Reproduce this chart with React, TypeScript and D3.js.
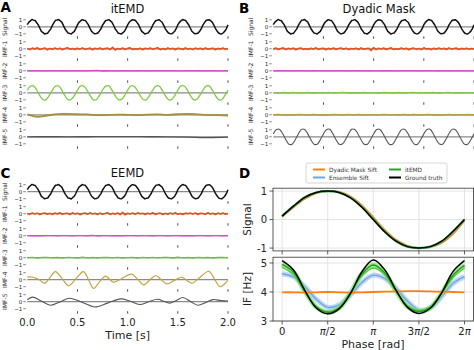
import React from "react";
import * as d3 from "d3";

// ---------------- data: time-series panels (A, B, C) ----------------
const TIME_TICKS = [0.5, 1.0, 1.5, 2.0];
const TIME_TICK_LABELS = ["0.0", "0.5", "1.0", "1.5", "2.0"];
const TIME_LABEL_VALUES = [0, 0.5, 1.0, 1.5, 2.0];
const ROW_LABELS = ["Signal", "IMF-1", "IMF-2", "IMF-3", "IMF-4", "IMF-5"];
const ROW_TICKS = [1, 0, -1];

const SIGNAL = [
  0.30, 0.66, 0.85, 1.04, 0.95, 0.90, 0.58, 0.28, -0.20, -0.66, -0.83, -1.02, -0.95, -0.91, -0.58, -0.30,
  0.22, 0.60, 0.92, 0.96, 1.03, 0.84, 0.66, 0.20, -0.28, -0.60, -0.90, -0.94, -1.04, -0.82, -0.65, -0.22,
  0.27, 0.65, 0.84, 1.02, 0.94, 0.91, 0.60, 0.27, -0.22, -0.65, -0.85, -1.01, -0.96, -0.88, -0.59, -0.28,
  0.24, 0.58, 0.90, 0.95, 1.03, 0.85, 0.64, 0.22, -0.27, -0.58, -0.91, -0.97, -1.02, -0.84, -0.63, -0.23,
  0.28, 0.64, 0.86, 1.01, 0.97, 0.89, 0.59, 0.29, -0.23, -0.66, -0.84, -1.03, -0.94, -0.90, -0.61, -0.26,
  0.23, 0.61, 0.91, 0.94, 1.02, 0.83, 0.65, 0.21, -0.26, -0.61, -0.89, -0.98, -1.01, -0.86, -0.64, -0.24,
  0.29, 0.63, 0.85, 1.03, 0.96, 0.90, 0.57, 0.26, -0.21, -0.64, -0.86, -1.00, -0.97, -0.89, -0.60, -0.27,
  0.25, 0.59, 0.89, 0.97, 1.01, 0.86, 0.63, 0.23, -0.25, -0.59, -0.88, -0.99, -1.02, -0.85, -0.62, -0.25,
  0.27,
];

const A_IMF1 = [0.05, -0.12, 0.10, -0.04, 0.14, -0.10, 0.02, 0.12, -0.15, 0.06, -0.08, 0.11, -0.02, 0.09, -0.13, 0.04, 0.16, -0.07, 0.03, -0.11, 0.08, -0.05, 0.13, -0.09, 0.01, 0.10, -0.14, 0.07, -0.03, 0.12, -0.10, 0.05, 0.09, -0.12, 0.22, -0.18, 0.04, -0.06, 0.11, -0.09, 0.06, 0.13, -0.11, 0.02, -0.07, 0.10, -0.13, 0.08, -0.02, 0.12, -0.08, 0.04, 0.15, -0.12, 0.03, -0.09, 0.11, -0.04, 0.07, -0.14, 0.09, 0.02, -0.10, 0.13, -0.06, 0.05, -0.12, 0.10, -0.03, 0.08, -0.11, 0.14, -0.07, 0.02, 0.09, -0.13, 0.06, -0.04, 0.11, -0.08, 0.03];
const A_IMF2 = [0.01, -0.02, 0.02, 0.0, -0.01, 0.03, -0.02, 0.01, 0.0, 0.02, -0.01, 0.01, -0.02, 0.02, 0.07, -0.03, 0.01, 0.0, -0.02, 0.02, 0.01, -0.01, 0.02, -0.02, 0.0, 0.01, -0.01, 0.03, -0.02, 0.01, 0.0, -0.01, 0.02, -0.01, 0.01, 0.0, -0.02, 0.02, 0.0, -0.01, 0.01];
const A_IMF3 = [
  0.36, 0.97, 0.98, 0.40, -0.40, -0.99, -0.97, -0.37,
  0.39, 0.95, 0.97, 0.38, -0.41, -0.98, -0.96, -0.39,
  0.37, 0.98, 0.96, 0.41, -0.38, -0.97, -0.99, -0.38,
  0.40, 0.96, 0.99, 0.39, -0.40, -0.98, -0.95, -0.40,
  0.38, 0.97, 0.95, 0.40, -0.39, -0.99, -0.97, -0.36,
  0.37, 0.95, 0.98, 0.38, -0.41, -0.96, -0.98, -0.39,
  0.39, 0.98, 0.97, 0.41, -0.38, -0.98, -0.96, -0.38,
  0.36, 0.96, 0.98, 0.39, -0.40, -0.97, -0.99, -0.37,
  0.38,
];
const A_IMF4 = [0.05, -0.3, -0.1, 0.1, 0.12, 0.08, 0.05, -0.05, -0.02, 0.03, 0.0, -0.05, 0.02, 0.05, 0.0, 0.08, 0.12, 0.05, -0.02, -0.05, -0.1];
const A_IMF5 = [0, 0.01, 0, 0.01, 0.02, 0.02, 0.01, 0, -0.04, -0.12, -0.06];

const B_IMF1 = [-0.06, 0.11, -0.09, 0.04, 0.13, -0.12, 0.07, -0.03, 0.10, -0.14, 0.05, 0.12, -0.08, 0.02, -0.11, 0.09, -0.05, 0.14, -0.10, 0.03, 0.08, -0.13, 0.06, -0.02, 0.11, -0.09, 0.04, 0.12, -0.07, 0.10, -0.12, 0.05, -0.04, 0.09, -0.11, 0.13, -0.06, 0.02, 0.08, -0.25, 0.18, -0.12, 0.07, -0.03, 0.11, -0.09, 0.05, 0.13, -0.10, 0.02, -0.07, 0.12, -0.05, 0.09, -0.13, 0.04, 0.10, -0.08, 0.06, -0.11, 0.14, -0.04, 0.03, -0.12, 0.09, -0.06, 0.11, -0.02, 0.07, -0.10, 0.13, -0.05, 0.04, 0.10, -0.12, 0.06, -0.03, 0.09, -0.08, 0.05, -0.02];
const B_IMF2 = [0.0, 0.02, -0.01, 0.01, -0.02, 0.02, 0.0, -0.01, 0.02, -0.02, 0.01, 0.0, 0.02, -0.01, 0.01, -0.02, 0.0, 0.02, -0.01, 0.01, 0.0, -0.02, 0.01, 0.02, -0.01, 0.0, 0.01, -0.02, 0.02, 0.0, -0.01, 0.01, 0.0, 0.02, -0.02, 0.01, -0.01, 0.02, 0.0, -0.01, 0.0];
const B_IMF3 = [0.02, -0.05, 0.04, -0.02, 0.06, -0.04, 0.01, 0.05, -0.06, 0.03, -0.02, 0.04, -0.05, 0.02, 0.06, -0.03, 0.01, -0.04, 0.05, -0.02, 0.03, -0.06, 0.04, 0.01, -0.03, 0.05, -0.04, 0.02, 0.06, -0.05, 0.03, -0.01, 0.04, -0.06, 0.02, 0.05, -0.03, 0.01, -0.04, 0.03, -0.02];
const B_IMF4 = [-0.02, 0.04, -0.03, 0.02, -0.04, 0.03, 0.01, -0.03, 0.04, -0.02, 0.02, -0.04, 0.03, 0.0, -0.03, 0.04, -0.02, 0.03, -0.04, 0.02, 0.01, -0.03, 0.04, -0.01, 0.02, -0.04, 0.03, -0.02, 0.04, -0.03, 0.01, 0.03, -0.04, 0.02, -0.02, 0.04, -0.03, 0.02, -0.01, 0.03, -0.02];
const B_IMF5 = [
  0.40, 1.04, 1.06, 0.44, -0.42, -1.07, -1.05, -0.41,
  0.43, 1.06, 1.05, 0.42, -0.44, -1.05, -1.06, -0.43,
  0.41, 1.05, 1.07, 0.43, -0.42, -1.06, -1.04, -0.42,
  0.42, 1.07, 1.05, 0.41, -0.43, -1.07, -1.06, -0.41,
  0.43, 1.04, 1.06, 0.44, -0.41, -1.05, -1.07, -0.43,
  0.41, 1.06, 1.04, 0.42, -0.44, -1.06, -1.05, -0.42,
  0.42, 1.05, 1.07, 0.43, -0.42, -1.04, -1.06, -0.41,
  0.43, 1.06, 1.05, 0.41, -0.43, -1.07, -1.05, -0.42,
  0.42,
];

const C_IMF1 = [0.04, -0.10, 0.12, -0.06, 0.09, -0.13, 0.03, 0.11, -0.08, 0.05, -0.12, 0.10, -0.04, 0.14, -0.09, 0.02, 0.07, -0.11, 0.13, -0.05, 0.08, -0.14, 0.04, 0.10, -0.07, 0.12, -0.03, 0.06, -0.12, 0.09, -0.08, 0.03, 0.13, -0.10, 0.05, -0.06, 0.11, -0.13, 0.20, -0.16, 0.07, -0.04, 0.10, -0.09, 0.12, -0.02, 0.06, -0.11, 0.08, -0.05, 0.13, -0.10, 0.03, 0.09, -0.12, 0.05, -0.07, 0.11, -0.03, 0.14, -0.09, 0.04, -0.12, 0.08, -0.02, 0.10, -0.06, 0.12, -0.11, 0.05, 0.03, -0.09, 0.13, -0.04, 0.07, -0.12, 0.09, -0.05, 0.11, -0.07, 0.04];
const C_IMF2 = [0.01, -0.01, 0.02, -0.02, 0.0, 0.01, -0.01, 0.02, 0.0, -0.02, 0.01, 0.02, -0.01, 0.06, -0.04, 0.01, 0.0, -0.01, 0.02, -0.01, 0.0, 0.02, -0.02, 0.01, 0.0, -0.01, 0.02, 0.0, -0.02, 0.01, 0.01, -0.01, 0.02, -0.02, 0.0, 0.01, -0.01, 0.02, 0.0, -0.01, 0.0];
const C_IMF3 = [-0.02, 0.04, -0.05, 0.03, 0.05, -0.03, 0.02, -0.06, 0.04, 0.01, -0.04, 0.06, -0.02, 0.03, -0.05, 0.04, 0.02, -0.03, 0.05, -0.04, 0.01, 0.03, -0.06, 0.05, -0.02, 0.04, -0.03, 0.02, 0.05, -0.04, 0.06, -0.02, 0.03, -0.05, 0.04, -0.01, 0.03, -0.04, 0.02, 0.04, -0.02];
const C_IMF4_T = [0.0, 0.06, 0.12, 0.17, 0.225, 0.28, 0.345, 0.41, 0.485, 0.56, 0.61, 0.66, 0.72, 0.78, 0.86, 0.95, 1.04, 1.10, 1.16, 1.22, 1.28, 1.335, 1.39, 1.465, 1.54, 1.59, 1.64, 1.725, 1.81, 1.865, 1.92, 2.0];
const C_IMF4_V = [0.40, 0.35, 0.0, -0.5, 0.3, 1.15, 0.2, -0.85, 0.15, 1.15, 0.0, -1.25, -0.3, 0.5, -0.35, 0.25, 0.8, 0.05, -0.75, -0.05, 0.6, 0.0, -0.6, -0.1, 0.35, -0.1, -0.5, 0.4, 1.2, 0.1, -1.0, -0.1];
const C_IMF5_T = [0.0, 0.05, 0.14, 0.23, 0.33, 0.42, 0.55, 0.67, 0.8, 0.93, 1.02, 1.12, 1.21, 1.3, 1.36, 1.42, 1.49, 1.55, 1.63, 1.7, 1.78, 1.85, 1.93, 2.0];
const C_IMF5_V = [0.25, 0.65, 0.1, -0.5, 0.0, 0.5, -0.1, -0.75, -0.2, 0.4, 0.1, -0.4, 0.0, 0.35, 0.05, -0.2, 0.2, 0.6, 0.0, -0.5, -0.1, 0.3, 0.15, 0.1];

// ---------------- data: panel D ----------------
const PHASE_TICK_LABELS = ["0", "π/2", "π", "3π/2", "2π"];
const SIG_TICKS = [1, 0, -1];
const SIG_TICK_LABELS = ["1", "0", "-1"];
const IF_TICKS = [5, 4, 3];
const SIG_TRUTH = [0.12, 0.47, 0.78, 0.95, 1.0, 0.95, 0.76, 0.43, 0.0, -0.43, -0.76, -0.95, -1.0, -0.95, -0.76, -0.41, 0.0];
const SIG_DYADIC = [0.10, 0.43, 0.73, 0.93, 1.0, 0.97, 0.81, 0.5, 0.08, -0.36, -0.71, -0.92, -1.0, -0.97, -0.82, -0.5, -0.04];
const SIG_ENSEMBLE = [0.12, 0.46, 0.77, 0.95, 1.0, 0.96, 0.77, 0.45, 0.02, -0.41, -0.75, -0.95, -1.0, -0.96, -0.78, -0.44, -0.01];
const SIG_ITEMD = [0.12, 0.47, 0.78, 0.95, 1.0, 0.95, 0.77, 0.44, 0.01, -0.42, -0.76, -0.95, -1.0, -0.95, -0.77, -0.42, 0.0];
const IF_TRUTH = [5.08, 4.76, 4.05, 3.45, 3.25, 3.42, 3.95, 4.7, 5.1, 4.77, 4.06, 3.47, 3.26, 3.44, 3.97, 4.71, 5.08];
const IF_ITEMD = [4.95, 4.68, 4.02, 3.48, 3.3, 3.45, 3.97, 4.62, 4.93, 4.66, 4.03, 3.5, 3.33, 3.46, 3.96, 4.58, 4.92];
const IF_ITEMD_2 = [4.85, 4.6, 4.0, 3.5, 3.33, 3.47, 3.98, 4.55, 4.83, 4.6, 4.02, 3.52, 3.36, 3.48, 3.97, 4.5, 4.82];
const IF_ENSEMBLE = [4.63, 4.52, 4.18, 3.75, 3.47, 3.56, 3.9, 4.33, 4.58, 4.47, 4.12, 3.68, 3.38, 3.45, 3.84, 4.3, 4.53];
const IF_DYADIC = [3.99, 3.99, 3.98, 3.99, 4.0, 3.99, 3.98, 3.99, 4.0, 4.01, 4.02, 4.03, 4.03, 4.02, 4.01, 4.0, 3.99];

const LEGEND = [
  { label: "Dyadic Mask Sift", color: "#ff7f0e" },
  { label: "itEMD", color: "#2ca02c" },
  { label: "Ensemble Sift", color: "#6fa3ec" },
  { label: "Ground truth", color: "#000000" },
];

// ---------------- styles ----------------
const FONT = "DejaVu Sans, Verdana, sans-serif";
const COL_SIG = "#111111";
const COL_IMF1 = "#e4501e";
const COL_IMF2 = "#dd44dd";
const COL_IMF3 = "#7fcc3f";
const COL_IMF4 = "#b89c3c";
const COL_IMF5 = "#555555";
const ZERO_C = "#8a8a8a";

type RowDef = { v: number[]; t?: number[]; color: string; sw: number; smooth?: boolean };

function uniformTimes(n: number) {
  return d3.range(n).map((i) => (i * 2) / (n - 1));
}

type PanelCfg = {
  x0: number; x1: number; zero0: number; labelX: number;
  title: string; titleX: number; titleY: number;
  letter: string; letterX: number; letterY: number;
  rows: RowDef[]; bottom: boolean;
};

const PANELS: PanelCfg[] = [
  {
    x0: 27.3, x1: 228, zero0: 26.8, labelX: 7, title: "itEMD", titleX: 127.5, titleY: 12.5,
    letter: "A", letterX: 0.5, letterY: 12, bottom: false,
    rows: [
      { v: SIGNAL, color: COL_SIG, sw: 1.5 },
      { v: A_IMF1, color: COL_IMF1, sw: 1.6 },
      { v: A_IMF2, color: COL_IMF2, sw: 1.3 },
      { v: A_IMF3, color: COL_IMF3, sw: 1.3, smooth: true },
      { v: A_IMF4, color: "#a88f3c", sw: 1.8, smooth: true },
      { v: A_IMF5, color: COL_IMF5, sw: 1.3, smooth: true },
    ],
  },
  {
    x0: 273.3, x1: 474, zero0: 26.8, labelX: 253, title: "Dyadic Mask", titleX: 379, titleY: 12.5,
    letter: "B", letterX: 239, letterY: 12.5, bottom: false,
    rows: [
      { v: SIGNAL, color: COL_SIG, sw: 1.5 },
      { v: B_IMF1, color: COL_IMF1, sw: 1.6 },
      { v: B_IMF2, color: COL_IMF2, sw: 1.3 },
      { v: B_IMF3, color: COL_IMF3, sw: 1.4 },
      { v: B_IMF4, color: COL_IMF4, sw: 1.5 },
      { v: B_IMF5, color: COL_IMF5, sw: 1.1, smooth: true },
    ],
  },
  {
    x0: 27.3, x1: 228, zero0: 191.7, labelX: 7, title: "EEMD", titleX: 127.5, titleY: 177,
    letter: "C", letterX: 0.5, letterY: 177.5, bottom: true,
    rows: [
      { v: SIGNAL, color: COL_SIG, sw: 1.5 },
      { v: C_IMF1, color: COL_IMF1, sw: 1.6 },
      { v: C_IMF2, color: COL_IMF2, sw: 1.3 },
      { v: C_IMF3, color: "#6cc03a", sw: 1.4 },
      { t: C_IMF4_T, v: C_IMF4_V, color: "#c4a23e", sw: 1.2, smooth: true },
      { t: C_IMF5_T, v: C_IMF5_V, color: COL_IMF5, sw: 1.1, smooth: true },
    ],
  },
];

function Panel({ cfg }: { cfg: PanelCfg }) {
  const x = d3.scaleLinear().domain([0, 2]).range([cfg.x0, cfg.x1]);
  const spine = cfg.x0 - 1.5;
  return (
    <g>
      <text x={cfg.letterX} y={cfg.letterY} fontSize={13.5} fontWeight="bold">{cfg.letter}</text>
      <text x={cfg.titleX} y={cfg.titleY} fontSize={11.5} textAnchor="middle" fill="#111">{cfg.title}</text>
      {cfg.rows.map((r, i) => {
        const zero = cfg.zero0 + i * 22;
        const y = d3.scaleLinear().domain([-1, 1]).range([zero + 7, zero - 7]);
        const ts = r.t ?? uniformTimes(r.v.length);
        const line = d3
          .line<number>()
          .x((_, k) => x(ts[k]))
          .y((v) => y(v))
          .curve(r.smooth ? d3.curveCatmullRom.alpha(0.5) : d3.curveLinear);
        return (
          <g key={i}>
            <line x1={x(0)} x2={x(2)} y1={y(0)} y2={y(0)} stroke={ZERO_C} strokeWidth={1.3} />
            <path d={line(r.v) || ""} fill="none" stroke={r.color} strokeWidth={r.sw} strokeLinejoin="round" />
            {ROW_TICKS.map((tv) => (
              <g key={tv}>
                <line x1={spine - 2.5} x2={spine} y1={y(tv)} y2={y(tv)} stroke="#333" strokeWidth={0.6} />
                <text x={spine - 3.5} y={y(tv)} dy="0.35em" fontSize={5.5} textAnchor="end" fill="#222">
                  {tv < 0 ? "\u2212" + Math.abs(tv) : tv}
                </text>
              </g>
            ))}
            {TIME_TICKS.map((tt) => (
              <line key={tt} x1={x(tt)} x2={x(tt)} y1={zero + 9.5} y2={zero + 12} stroke="#222" strokeWidth={0.8} />
            ))}
            <text transform={`translate(${cfg.labelX},${zero}) rotate(-90)`} fontSize={6} textAnchor="middle" fill="#222">
              {ROW_LABELS[i]}
            </text>
          </g>
        );
      })}
      {cfg.bottom && (
        <g>
          {TIME_LABEL_VALUES.map((tt, i) => (
            <text key={tt} x={x(tt)} y={326} fontSize={10} textAnchor="middle" fill="#222">{TIME_TICK_LABELS[i]}</text>
          ))}
          <text x={(cfg.x0 + cfg.x1) / 2} y={339} fontSize={11} textAnchor="middle" fill="#222">Time [s]</text>
        </g>
      )}
    </g>
  );
}

function PhaseLabel({ s, x, y }: { s: string; x: number; y: number }) {
  return (
    <text x={x} y={y} fontSize={10} textAnchor="middle" fill="#222">
      {s.split("").map((ch, i) => (
        <tspan key={i} fontStyle={ch === "π" ? "italic" : "normal"}>{ch}</tspan>
      ))}
    </text>
  );
}

function PanelD() {
  const TWO_PI = 2 * Math.PI;
  const px = d3.scaleLinear().domain([-0.05 * TWO_PI, 1.05 * TWO_PI]).range([273, 473.6]);
  const phases = d3.range(SIG_TRUTH.length).map((k) => (k * TWO_PI) / (SIG_TRUTH.length - 1));
  const phaseTicks = d3.range(PHASE_TICK_LABELS.length).map((k) => (k * Math.PI) / 2);
  const sy = d3.scaleLinear().domain([-1.1, 1.1]).range([250.9, 188.2]);
  const fy = d3.scaleLinear().domain([3.0, 5.2]).range([321, 257.2]);
  const mk = (yS: d3.ScaleLinear<number, number>) =>
    d3.line<number>().x((_, k) => px(phases[k])).y((v) => yS(v)).curve(d3.curveCatmullRom.alpha(0.5));
  const sl = mk(sy);
  const fl = mk(fy);
  const L = px.range()[0];
  const R = px.range()[1];
  const axesBox = (top: number, bot: number) => (
    <rect x={L} y={top} width={R - L} height={bot - top} fill="none" stroke="#333" strokeWidth={0.8} />
  );
  return (
    <g>
      <text x={239} y={178} fontSize={13.5} fontWeight="bold">D</text>
      <rect x={306} y={163} width={141} height={20} rx={2} fill="#fff" stroke="#cccccc" strokeWidth={0.8} />
      {LEGEND.map((e, i) => {
        const col = i % 2;
        const row = Math.floor(i / 2);
        const lx = col === 0 ? 313 : 389;
        const ly = 169.5 + row * 8;
        return (
          <g key={e.label}>
            <line x1={lx} x2={lx + 12} y1={ly} y2={ly} stroke={e.color} strokeWidth={2} />
            <text x={lx + 16} y={ly} dy="0.35em" fontSize={5.8} fill="#333">{e.label}</text>
          </g>
        );
      })}
      {phaseTicks.map((p) => (
        <line key={"gs" + p} x1={px(p)} x2={px(p)} y1={188.2} y2={250.9} stroke="#dcdcdc" strokeWidth={0.8} />
      ))}
      {SIG_TICKS.map((v) => (
        <line key={"gsh" + v} x1={L} x2={R} y1={sy(v)} y2={sy(v)} stroke="#dcdcdc" strokeWidth={0.8} />
      ))}
      <path d={sl(SIG_DYADIC) || ""} fill="none" stroke="#ff7f0e" strokeWidth={1.8} />
      <path d={sl(SIG_ENSEMBLE) || ""} fill="none" stroke="#8db8f2" strokeWidth={2.2} opacity={0.8} />
      <path d={sl(SIG_ITEMD) || ""} fill="none" stroke="#3fb83f" strokeWidth={2.2} />
      <path d={sl(SIG_TRUTH) || ""} fill="none" stroke="#000" strokeWidth={1.5} />
      {axesBox(188.2, 250.9)}
      {SIG_TICKS.map((v, i) => (
        <g key={"st" + v}>
          <line x1={L - 3.5} x2={L} y1={sy(v)} y2={sy(v)} stroke="#333" strokeWidth={0.8} />
          <text x={L - 6} y={sy(v)} dy="0.35em" fontSize={10} textAnchor="end" fill="#222">{SIG_TICK_LABELS[i]}</text>
        </g>
      ))}
      {phaseTicks.map((p) => (
        <line key={"sxt" + p} x1={px(p)} x2={px(p)} y1={250.9} y2={254.4} stroke="#333" strokeWidth={0.8} />
      ))}
      <text transform={`translate(251,219.5) rotate(-90)`} fontSize={10.5} textAnchor="middle" fill="#222">Signal</text>

      {phaseTicks.map((p) => (
        <line key={"gf" + p} x1={px(p)} x2={px(p)} y1={257.2} y2={321} stroke="#dcdcdc" strokeWidth={0.8} />
      ))}
      {IF_TICKS.map((v) => (
        <line key={"gfh" + v} x1={L} x2={R} y1={fy(v)} y2={fy(v)} stroke="#dcdcdc" strokeWidth={0.8} />
      ))}
      <path d={fl(IF_ENSEMBLE) || ""} fill="none" stroke="#a9c9f5" strokeWidth={5} opacity={0.75} />
      <path d={fl(IF_ENSEMBLE) || ""} fill="none" stroke="#6fa3ec" strokeWidth={1.4} />
      <path d={fl(IF_ITEMD) || ""} fill="none" stroke="#7fe36a" strokeWidth={5} opacity={0.7} />
      <path d={fl(IF_ITEMD_2) || ""} fill="none" stroke="#4ccf3a" strokeWidth={1.4} />
      <path d={fl(IF_ITEMD) || ""} fill="none" stroke="#229a22" strokeWidth={1.4} />
      <path d={fl(IF_DYADIC) || ""} fill="none" stroke="#ff7f0e" strokeWidth={1.8} />
      <path d={fl(IF_TRUTH) || ""} fill="none" stroke="#000" strokeWidth={1.5} />
      {axesBox(257.2, 321)}
      {IF_TICKS.map((v) => (
        <g key={"ft" + v}>
          <line x1={L - 3.5} x2={L} y1={fy(v)} y2={fy(v)} stroke="#333" strokeWidth={0.8} />
          <text x={L - 6} y={fy(v)} dy="0.35em" fontSize={10} textAnchor="end" fill="#222">{v}</text>
        </g>
      ))}
      {phaseTicks.map((p, i) => (
        <g key={"fxt" + p}>
          <line x1={px(p)} x2={px(p)} y1={321} y2={324.5} stroke="#333" strokeWidth={0.8} />
          <PhaseLabel s={PHASE_TICK_LABELS[i]} x={px(p)} y={335} />
        </g>
      ))}
      <text transform={`translate(251,289) rotate(-90)`} fontSize={10.5} textAnchor="middle" fill="#222">IF [Hz]</text>
      <text x={373} y={347.5} fontSize={11} textAnchor="middle" fill="#222">Phase [rad]</text>
    </g>
  );
}

export default function App() {
  return (
    <svg
      width={474}
      height={350}
      style={{ position: "absolute", left: 0, top: 0, background: "#fff" }}
      fontFamily={FONT}
    >
      <rect width={474} height={350} fill="#fff" />
      {PANELS.map((p) => (
        <Panel key={p.letter} cfg={p} />
      ))}
      <PanelD />
    </svg>
  );
}
